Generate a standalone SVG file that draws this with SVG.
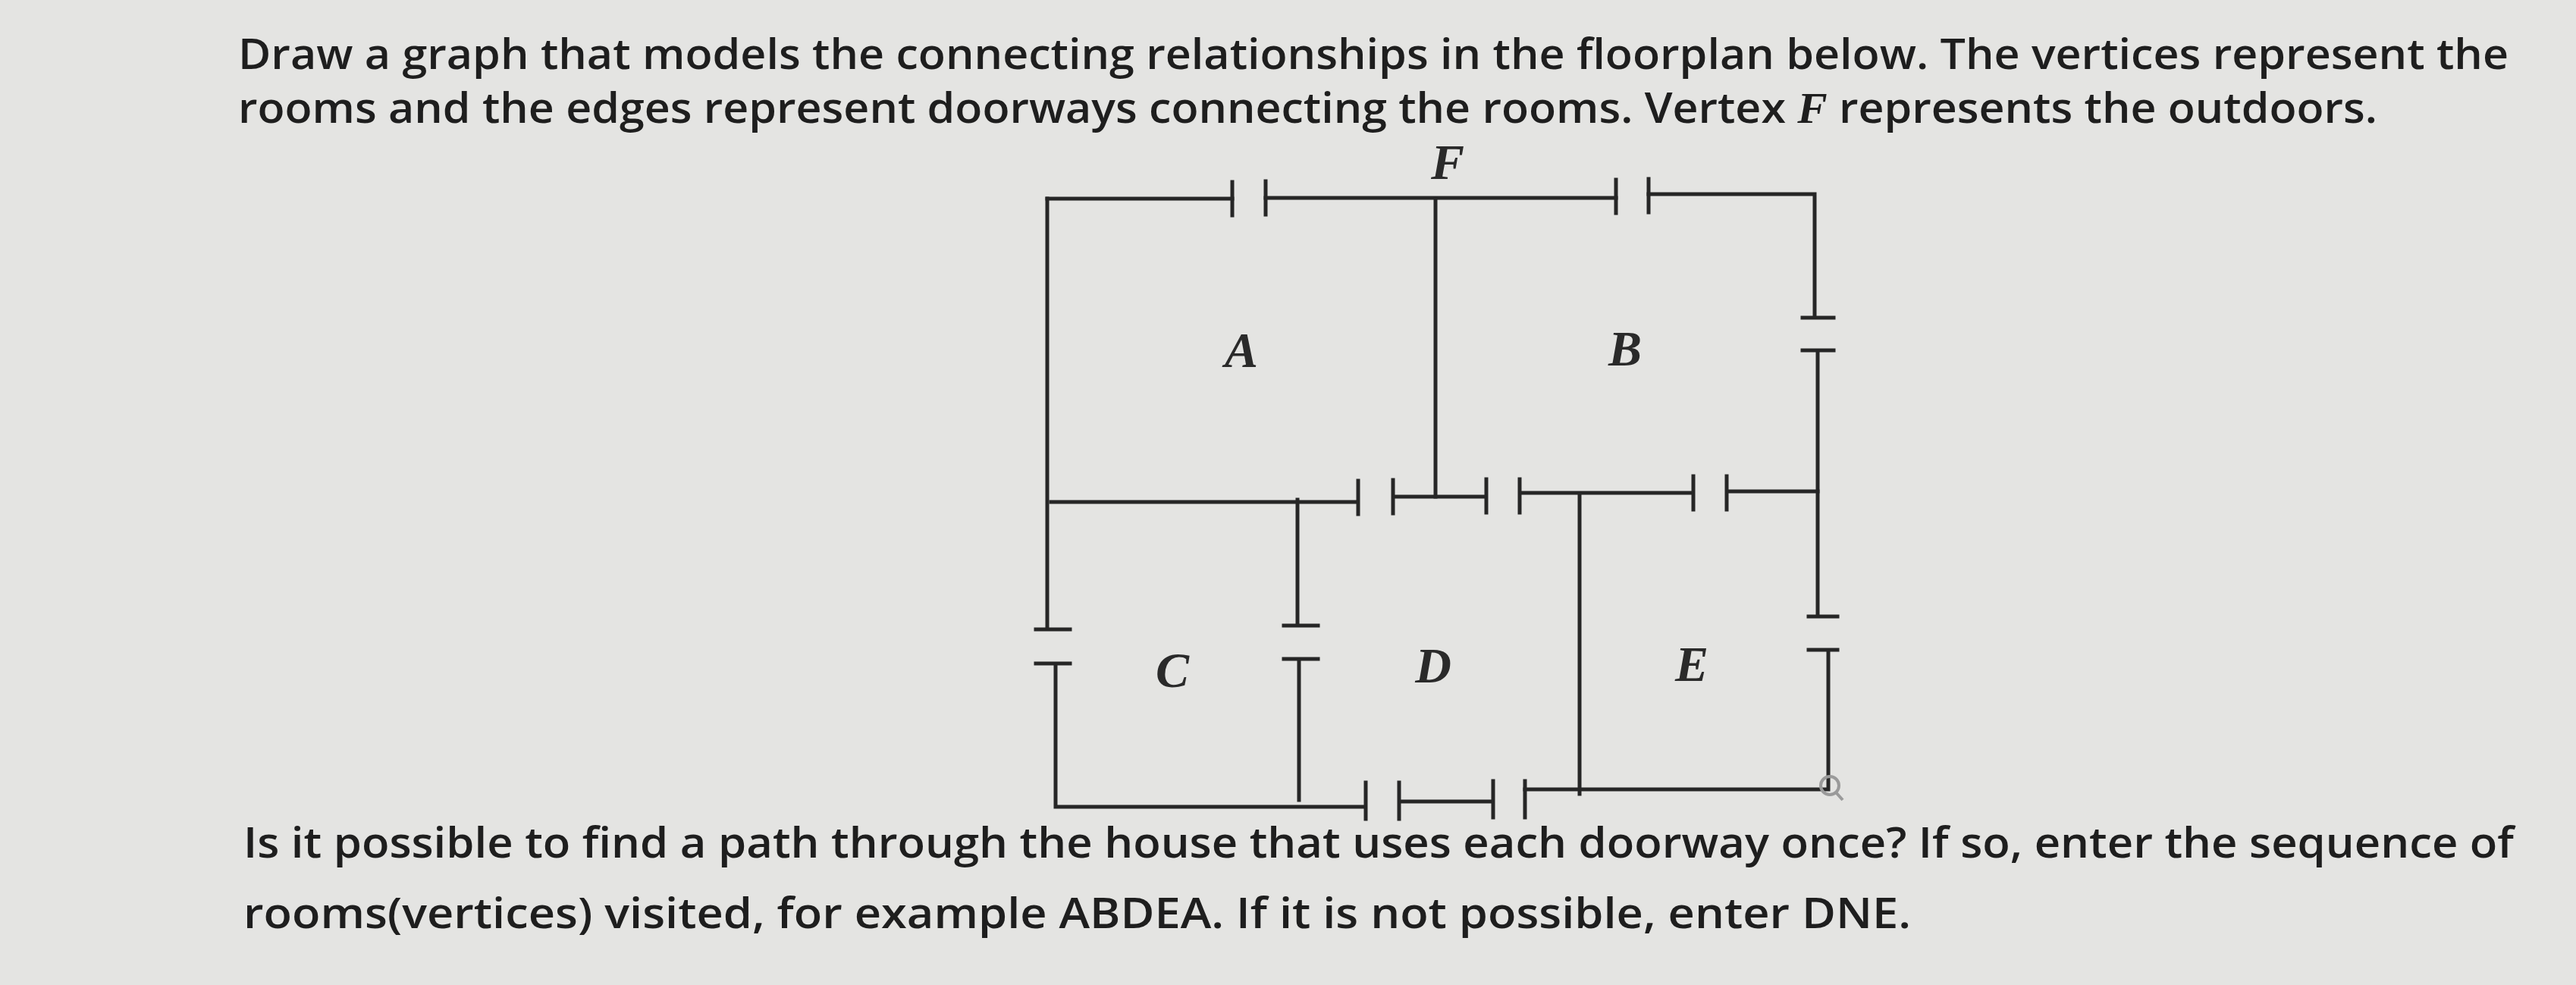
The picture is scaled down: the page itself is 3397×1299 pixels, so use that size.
<svg xmlns="http://www.w3.org/2000/svg" width="3397" height="1299" viewBox="0 0 3397 1299">
<style>
.t{font-family:"Open Sans","Liberation Sans",sans-serif;font-size:56px;fill:#1e1e1e;font-weight:600}
.v{font-family:"Liberation Serif",serif;font-style:italic;font-weight:bold}
.l{font-family:"Liberation Serif",serif;font-style:italic;font-weight:bold;font-size:66px;fill:#2a2a2a;text-anchor:middle}
.w{stroke:#262626;stroke-width:5;fill:none;stroke-linecap:square}
</style>
<rect width="3397" height="1299" fill="#e4e4e2"/>
<g id="question-top">
<text class="t" x="314" y="91" textLength="2994" lengthAdjust="spacingAndGlyphs">Draw a graph that models the connecting relationships in the floorplan below. The vertices represent the</text>
<text class="t" x="314" y="162" textLength="2821" lengthAdjust="spacingAndGlyphs">rooms and the edges represent doorways connecting the rooms. Vertex <tspan class="v">F</tspan> represents the outdoors.</text>
</g>
<g id="walls" class="w">
<path d="M1381,262 H1625 M1669,261 H2131 M2174,256 H2393 V419 M2377,419 H2418 M2377,462 H2418 M2397,462 V813 M2385,813 H2423 M2385,857 H2423 M2411,857 V1041 H2011"/>
<path d="M1625,240 V284 M1669,239 V283 M2131,237 V281 M2174,236 V280"/>
<path d="M1381,262 V830 M1366,830 H1411 M1366,875 H1411 M1392,875 V1064 H1801 M1801,1032 V1080 M1845,1032 V1080 M1845,1057 H1969 M1969,1030 V1078 M2011,1030 V1078"/>
<path d="M1386,662 H1791 M1791,634 V678 M1837,633 V677 M1837,655 H1960 M1960,632 V676 M2004,632 V676 M2004,650 H2233 M2233,628 V672 M2277,628 V672 M2277,648 H2397"/>
<path d="M1893,262 V655"/>
<path d="M1711,659 V825 M1693,825 H1738 M1693,869 H1738 M1713,869 V1055"/>
<path d="M2083,652 V1047"/>
</g>
<g id="magnifier" stroke="#9a9a9a" stroke-width="4" fill="none">
<circle cx="2413" cy="1036" r="12"/>
<path d="M2421,1045 L2430,1055"/>
</g>
<g id="labels">
<text class="l" x="1909" y="236">F</text>
<text class="l" x="1637" y="484">A</text>
<text class="l" x="2143" y="482">B</text>
<text class="l" x="1546" y="906">C</text>
<text class="l" x="1890" y="900">D</text>
<text class="l" x="2231" y="898">E</text>
</g>
<g id="question-bottom">
<text class="t" x="321" y="1131" textLength="2994" lengthAdjust="spacingAndGlyphs">Is it possible to find a path through the house that uses each doorway once? If so, enter the sequence of</text>
<text class="t" x="321" y="1224" textLength="2199" lengthAdjust="spacingAndGlyphs">rooms(vertices) visited, for example ABDEA. If it is not possible, enter DNE.</text>
</g>
</svg>
